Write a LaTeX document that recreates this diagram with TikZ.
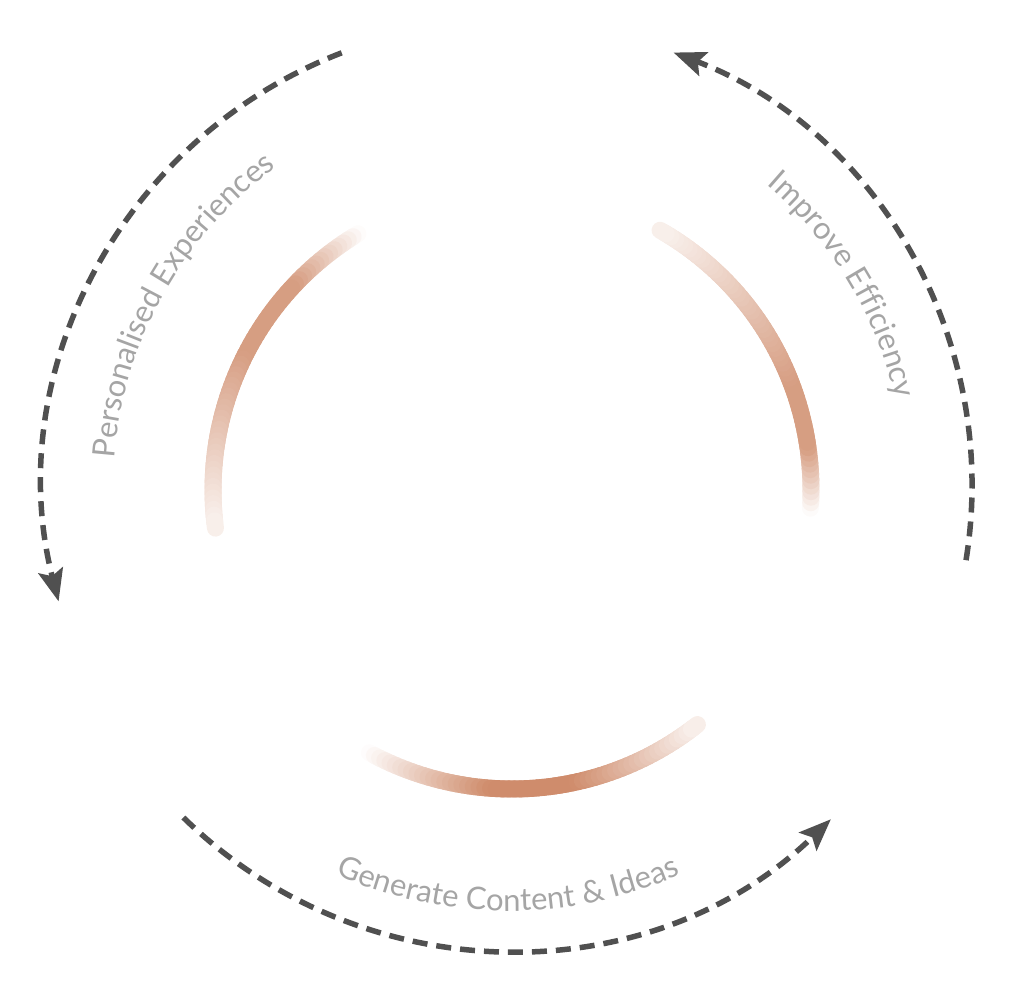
\documentclass[tikz,border=0pt]{standalone}
\usepackage{fontspec}
\setmainfont{Lato}
\usetikzlibrary{arrows.meta,decorations.text,calc}
\definecolor{copper}{RGB}{203,130,95}
\definecolor{dashgray}{RGB}{80,80,80}
\definecolor{labelgray}{RGB}{165,165,165}
\newcommand\labelfont{\fontsize{31}{36}\selectfont}
\newcommand\copperarc[6]{%
  \foreach \i in {0,...,59}{
    \pgfmathsetmacro\glowA{#2+(#3-#2)*\i/60}
    \pgfmathsetmacro\glowB{#2+(#3-#2)*(\i+1.3)/60}
    \pgfmathsetmacro\glowT{(\i+0.5)/60}
    \pgfmathsetmacro\glowK{\glowT<#4 ? #6*\glowT/#4 : (\glowT<#5 ? #6 : #6-(#6-12)*(\glowT-#5)/(1-#5))}
    \draw[glow,copper!\glowK!white] ($(#1)+(\glowA:299)$) arc[start angle=\glowA, end angle=\glowB, radius=299];
  }}

\begin{document}
\begin{tikzpicture}[x=1pt,y=1pt,
    cycle/.style={dashgray,line width=5.5pt,dash pattern=on 15pt off 9pt,-{Stealth[length=32pt,width=25pt,inset=6pt]}},
    glow/.style={line width=17pt,line cap=round},
    label/.style={decorate,decoration={text along path,text color=labelgray,text align=center,text={|\labelfont|#1}}}]
    \useasboundingbox (-508,-508) rectangle (516,486);
    \coordinate (O) at (0,0);
    \coordinate (C) at (4,-4);
    \coordinate (pe) at (111:464);
    \coordinate (ie) at (-9.2:464);
    \coordinate (gc) at (225.6:464);
    \draw[cycle] (pe) arc[start angle=111,end angle=194.4,radius=464];
    \draw[cycle] (ie) arc[start angle=-9.2,end angle=69.1,radius=464];
    \draw[cycle] (gc) arc[start angle=225.6,end angle=314.1,radius=464];
    \copperarc{C}{121}{187}{0.25}{0.5}{78}
    \copperarc{C}{-3.5}{60}{0.2}{0.4}{78}
    \copperarc{C}{241.5}{308}{0.38}{0.62}{92}
    \path[label=Personalised Experiences] (176:394) arc[start angle=176,end angle=126,radius=394];
    \path[label=Improve Efficiency] (52:397) arc[start angle=52,end angle=10,radius=397];
    \path[label=Generate Content {\&} Ideas] (243:425) arc[start angle=243,end angle=297,radius=425];
\end{tikzpicture}
\end{document}
